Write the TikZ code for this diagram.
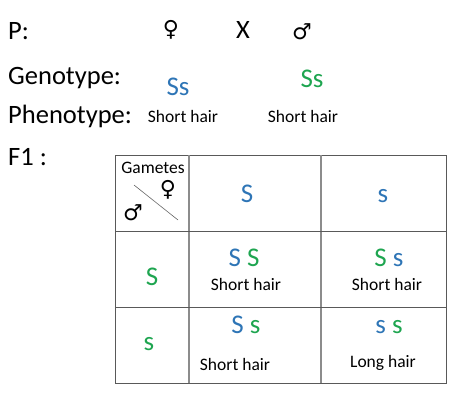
\documentclass[tikz,border=0pt]{standalone}
\usepackage{fontspec}
\setmainfont{Carlito}
\newfontfamily\symfont{DejaVu Sans}
\definecolor{gblue}{RGB}{46,117,182}
\definecolor{ggreen}{RGB}{30,165,80}
\tikzset{
	big/.style={font=\fontsize{26.5}{30}\selectfont, inner sep=0pt},
	allele/.style={font=\fontsize{27}{30}\selectfont, inner sep=0pt, anchor=base},
	small/.style={font=\fontsize{17.5}{20}\selectfont, inner sep=0pt, anchor=base},
	sym/.style={font=\symfont\fontsize{22}{24}\selectfont, inner sep=0pt},
	grid/.style={draw=black!65, line width=1pt}
}
\begin{document}
\begin{tikzpicture}[x=1pt, y=-1pt]
	\useasboundingbox (0,0) rectangle (450,400);
	\node[big, anchor=base west] (p) at (8,39) {P:};
	\node[sym] (female) at (171,30) {♀};
	\node[big] (cross) at (243,30) {X};
	\node[sym] (male) at (302,32) {♂};
	\node[big, anchor=base west] (geno) at (8,84) {Genotype:};
	\node[big, anchor=base west] (pheno) at (8,123) {Phenotype:};
	\node[allele, gblue] (genof) at (178,95) {Ss};
	\node[allele, ggreen] (genom) at (312,87) {Ss};
	\node[small] (phenof) at (183,122) {Short hair};
	\node[small] (phenom) at (303,122) {Short hair};
	\node[big, anchor=base west] (fone) at (8,165) {F1 :};
	\begin{scope}
		\draw[grid] (115,155) rectangle (446,383);
		\draw[grid, draw=black!45, line width=1.4pt] (189,155) -- (189,383);
		\draw[grid, draw=black!45, line width=1.4pt] (321,155) -- (321,383);
		\draw[grid] (115,231) -- (446,231);
		\draw[grid] (115,307) -- (446,307);
		\node[small] (gametes) at (153,173) {Gametes};
		\coordinate (da) at (134,185);
		\coordinate (db) at (178,220);
		\draw[black!60, line width=0.6pt] (da) -- (db);
		\node[sym] (gf) at (168,190) {♀};
		\node[sym] (gm) at (133,213) {♂};
		\node[allele, gblue] (fS) at (247,202) {S};
		\node[allele, gblue] (fs) at (383,202) {s};
		\node[allele, ggreen] (mS) at (152,285) {S};
		\node[allele, ggreen] (ms) at (149,350) {s};
		\node[allele] (SS) at (244,266) {\textcolor{gblue}{S} \textcolor{ggreen}{S}};
		\node[small] (SSp) at (246,290) {Short hair};
		\node[allele] (Ss) at (389,266) {\textcolor{ggreen}{S} \textcolor{gblue}{s}};
		\node[small] (Ssp) at (387,290) {Short hair};
		\node[allele] (sS) at (246,333) {\textcolor{gblue}{S} \textcolor{ggreen}{s}};
		\node[small] (sSp) at (235,370) {Short hair};
		\node[allele] (ss) at (389,333) {\textcolor{gblue}{s} \textcolor{ggreen}{s}};
		\node[small] (ssp) at (383,367) {Long hair};
	\end{scope}
\end{tikzpicture}
\end{document}
